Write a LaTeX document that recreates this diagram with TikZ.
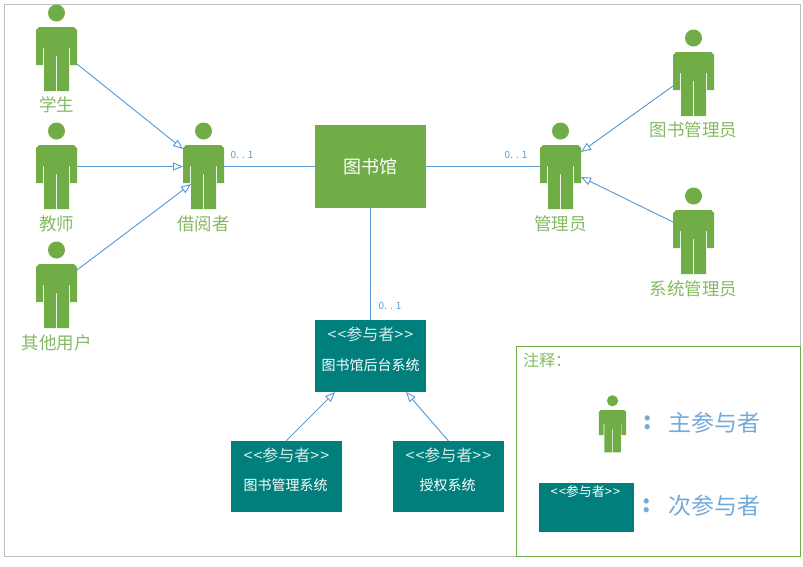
\documentclass[tikz,border=0pt]{standalone}
\usepackage{fontspec}
\setmainfont{Noto Sans CJK SC}
\usetikzlibrary{arrows.meta,calc}
\definecolor{pgreen}{HTML}{70AD47}
\definecolor{pblue}{HTML}{5B9BD5}
\definecolor{pteal}{HTML}{007F7C}
\definecolor{pframe}{HTML}{BFBFBF}
\newcommand{\fsz}[1]{\fontsize{#1}{#1}\selectfont}
\newcommand{\stereotext}{<\kern1pt<参与者>\kern1pt>}
\tikzset{
  link/.style={draw=pblue,line width=0.95pt},
  genlink/.style={link,-{Triangle[open,length=10pt,width=8pt,line width=0.95pt]}},
  bodyzone/.style={inner sep=0pt,outer sep=0pt,minimum width=41pt,minimum height=64pt},
  actorname/.style={text=pgreen!85!white,font=\fsz{17.5},inner sep=0pt},
  mult/.style={text=pblue,font=\fsz{10},inner sep=0pt},
  teal box/.style={fill=pteal,inner sep=0pt,outer sep=0pt},
  stereo/.style={text=white!85!pteal,font=\fsz{16},inner sep=0pt},
  sysname/.style={text=white,font=\fsz{14},inner sep=0pt},
  legendtext/.style={text=pblue!85!white,font=\fsz{23},inner sep=0pt},
}
\newcommand{\actorfig}[4]{%
  \node[bodyzone,minimum width=#4*41pt,minimum height=#4*64pt] (#1) at (#2,#3+#4*32) {};
  \begin{scope}[shift={(#2,#3)},scale=#4]
    \fill[pgreen] (0,-14) circle (8.5);
    \fill[pgreen] (-17.5,0) -- (17.5,0) -- (20.5,3) -- (20.5,38) -- (13.5,38) -- (13.5,21) -- (12.5,21)
      -- (12.5,64) -- (0.5,64) -- (0.5,29) -- (-0.5,29) -- (-0.5,64) -- (-12.5,64) -- (-12.5,21)
      -- (-13.5,21) -- (-13.5,38) -- (-20.5,38) -- (-20.5,3) -- cycle;
  \end{scope}}
\begin{document}
\begin{tikzpicture}[x=1pt,y=-1pt]
\useasboundingbox (0,0) rectangle (803,566);
\draw[pframe,line width=0.9pt] (4.5,4.5) rectangle (800.5,556.5);
\actorfig{stu}{56.5}{27}{1}
\actorfig{tea}{56.5}{145}{1}
\actorfig{oth}{56.5}{264}{1}
\actorfig{bor}{203.5}{145}{1}
\actorfig{adm}{560.5}{145}{1}
\actorfig{lib}{693.5}{52}{1}
\actorfig{sys}{693.5}{210}{1}
\node[actorname] (stuL) at (56.5,105) {学生};
\node[actorname] (teaL) at (56.5,224) {教师};
\node[actorname] (othL) at (56.5,343) {其他用户};
\node[actorname] (borL) at (203.5,224) {借阅者};
\node[actorname] (admL) at (560.5,224) {管理员};
\node[actorname] (libL) at (693.5,130) {图书管理员};
\node[actorname] (sysL) at (693.5,289) {系统管理员};
\node[fill=pgreen,inner sep=0pt,outer sep=0pt,minimum width=111pt,minimum height=83pt,text=white,font=\fsz{18}] (main) at (370.5,166.5) {图书馆};
\node[teal box,minimum width=111pt,minimum height=72pt] (bk) at (370.5,356) {};
\node[stereo] (bkS) at (370.5,334) {\stereotext};
\node[sysname] (bkN) at (370.5,365) {图书馆后台系统};
\node[teal box,minimum width=111pt,minimum height=71pt] (lm) at (286.5,476.5) {};
\node[stereo] (lmS) at (286.5,455) {\stereotext};
\node[sysname] (lmN) at (285.5,485) {图书管理系统};
\node[teal box,minimum width=111pt,minimum height=71pt] (au) at (448.5,476.5) {};
\node[stereo] (auS) at (448.5,455) {\stereotext};
\node[sysname] (auN) at (447.5,485) {授权系统};
\draw[genlink] ($(stu.east)+(0,5)$) -- ($(bor.north west)+(0,4)$);
\draw[genlink] ($(tea.east)+(0,-10.5)$) -- ($(bor.east)+(-41,-10.5)$);
\draw[genlink] ($(oth.north east)+(0,6)$) -- ($(bor.east)+(-33,7)$);
\draw[link] ($(bor.east)+(0,-10.5)$) -- (main.west);
\draw[link] (main.east) -- ($(adm.west)+(0,-10.5)$);
\draw[link] (main.south) -- (bk.north);
\draw[genlink] ($(lib.west)+(0,2)$) -- ($(adm.north east)+(0,7)$);
\draw[genlink] ($(sys.north west)+(0,12)$) -- (adm.east);
\draw[genlink] ($(lm.north)+(-0.5,0)$) -- ($(bk.south)+(-35.5,0)$);
\draw[genlink] (au.north) -- ($(bk.south)+(35.5,0)$);
\node[mult,anchor=west] (m1) at (230.5,155) {0. . 1};
\node[mult,anchor=west] (m2) at (504.5,155) {0. . 1};
\node[mult,anchor=west] (m3) at (378.5,306) {0. . 1};
\node[draw=pgreen,line width=0.9pt,inner sep=0pt,outer sep=0pt,minimum width=284pt,minimum height=209.5pt] (leg) at (658.5,451.5) {};
\node[text=pgreen!85!white,font=\fsz{16},anchor=west,inner sep=0pt] (legT) at (523,360) {注释：};
\actorfig{legA}{612.5}{410}{0.66}
\node[teal box,minimum width=95pt,minimum height=49pt] (legB) at (586.5,507.5) {};
\node[text=white,font=\fsz{13},inner sep=0pt] (legS) at (585.5,492) {\stereotext};
\node[legendtext,font=\bfseries\fsz{24},anchor=center] (c1) at (648,423) {:};
\node[legendtext,font=\bfseries\fsz{24},anchor=center] (c2) at (647,506) {:};
\node[legendtext,anchor=west] (t1) at (668,423) {主参与者};
\node[legendtext,anchor=west] (t2) at (668,506) {次参与者};
\end{tikzpicture}
\end{document}
